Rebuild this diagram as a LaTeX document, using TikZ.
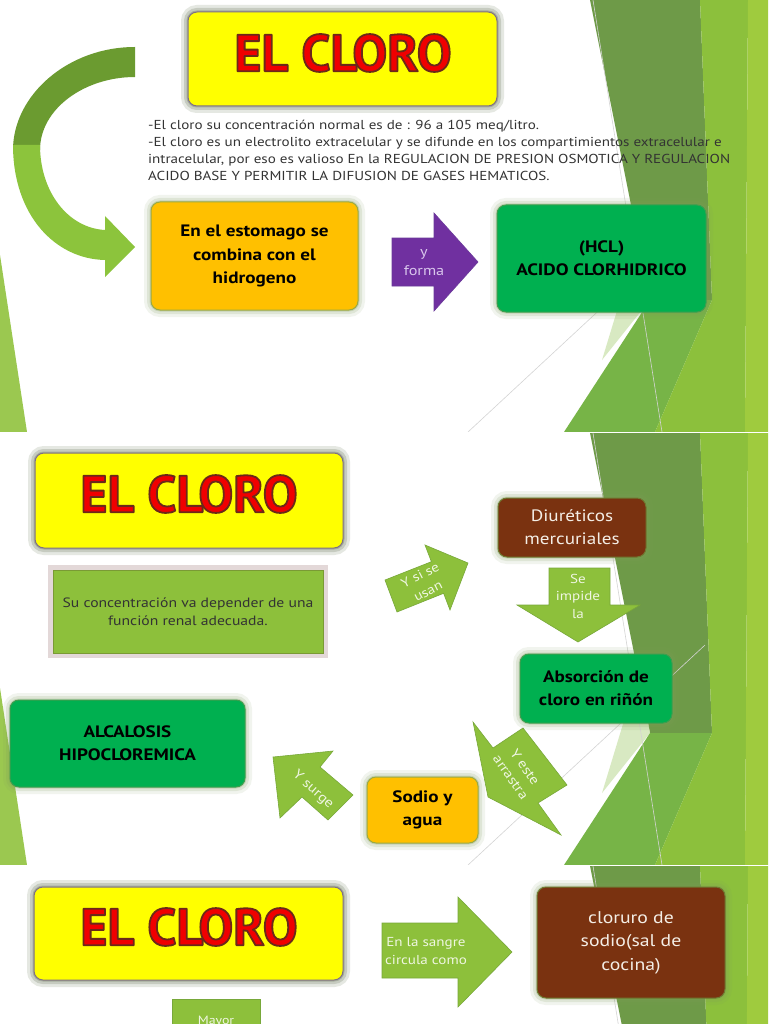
\documentclass[tikz,border=0pt]{standalone}
\usepackage{fontspec}
\setmainfont[FakeStretch=1.16]{PT Sans}
\newfontfamily\titlefont{PT Sans}
\definecolor{titleyellow}{HTML}{FFFF00}
\definecolor{titleedge}{HTML}{7F6F86}
\definecolor{titlered}{HTML}{F00000}
\definecolor{orangefill}{HTML}{FFC000}
\definecolor{orangeedge}{HTML}{9AAA44}
\definecolor{greenfill}{HTML}{00B050}
\definecolor{greenedge}{HTML}{3E9E4E}
\definecolor{brownfill}{HTML}{7A3210}
\definecolor{brownedge}{HTML}{6E7A30}
\definecolor{purplefill}{HTML}{7030A0}
\definecolor{purpleedge}{HTML}{6A3A9A}
\definecolor{purpletext}{HTML}{D9C6EC}
\definecolor{arrowgreen}{HTML}{8DC03B}
\definecolor{arrowedge}{HTML}{78A83A}
\definecolor{arrowtext}{HTML}{EFF6E2}
\definecolor{concedge}{HTML}{7A9A35}
\definecolor{concglow}{HTML}{B09090}
\definecolor{glowc}{HTML}{7E9A5A}
\definecolor{paratext}{HTML}{333333}
\definecolor{lighttext}{HTML}{F4EEE6}
\definecolor{dkg}{HTML}{6E9A48}
\definecolor{mdg}{HTML}{77B447}
\definecolor{brg}{HTML}{8CC03C}
\definecolor{stg}{HTML}{9FCB3E}
\definecolor{lsg}{HTML}{9BC850}
\definecolor{ltg}{HTML}{C8E1A9}
\definecolor{thinline}{HTML}{D4D4D4}
\definecolor{curvedark}{HTML}{6B9B30}
\definecolor{curvelight}{HTML}{8CC43C}
% red title text with a dark outline (stands in for the shadow)
\newcommand\outlined[1]{\special{pdf:literal direct 0.42 0.16 0.10 RG 1.8 w 1 j 2 Tr}#1\special{pdf:literal direct 0 Tr}}
\tikzset{
  glow/.style={preaction={draw=#1, line width=14pt, draw opacity=0.10},
               preaction={draw=#1, line width=8pt, draw opacity=0.16},
               preaction={draw=#1, line width=3pt, draw opacity=0.25}},
  box/.style={rounded corners=9pt, line width=1pt, align=center, inner sep=2pt, glow=glowc},
  titlebox/.style={box, draw=titleedge, fill=titleyellow, glow=gray},
  titletext/.style={text=titlered, font=\titlefont\bfseries\fontsize{52}{52}\selectfont, inner sep=0pt},
  orangebox/.style={box, draw=orangeedge, fill=orangefill, font=\bfseries\fontsize{16.5}{23.5}\selectfont},
  greenbox/.style={box, draw=greenedge, fill=greenfill, font=\bfseries\fontsize{16.5}{23}\selectfont},
  brownbox/.style={box, draw=brownedge, fill=brownfill, text=lighttext, font=\fontsize{16.5}{23}\selectfont},
  arrowshape/.style={fill=arrowgreen, draw=arrowedge, line width=0.6pt},
  arrowlabel/.style={text=arrowtext, font=\fontsize{13}{17.5}\selectfont, align=center, inner sep=0pt},
  paragraph/.style={text=paratext, font=\fontsize{13}{17.3}\selectfont, align=left, inner sep=0pt, anchor=north west}
}
\begin{document}
\begin{tikzpicture}[x=1pt,y=-1pt]
\useasboundingbox (0,0) rectangle (768,1024);
\clip (0,0) rectangle (768,1024);
\fill[white] (0,0) rectangle (768,1024);
% ---------- slide backgrounds (Facet theme) ----------
\foreach \yo in {0,433,866}{
  \fill[dkg] (590,\yo) -- (700,\yo) -- (712,\yo+300) -- (650,\yo+300) -- cycle;
  \fill[ltg, opacity=0.7] (602,\yo+360) -- (650,\yo+300) -- (640,\yo+235) -- cycle;
  \fill[mdg] (564,\yo+432) -- (655,\yo+432) -- (712,\yo+300) -- (650,\yo+300) -- cycle;
  \fill[brg] (700,\yo) -- (748,\yo) -- (745,\yo+432) -- (655,\yo+432) -- (712,\yo+300) -- cycle;
  \fill[stg] (748,\yo) -- (768,\yo) -- (768,\yo+432) -- (745,\yo+432) -- cycle;
  \fill[lsg] (0,\yo+255) -- (27,\yo+432) -- (0,\yo+432) -- cycle;
  \draw[thinline, line width=0.6pt] (593,\yo) -- (662,\yo+432);
  \draw[thinline, line width=0.6pt] (468,\yo+432) -- (705,\yo+212);
  \draw[white, line width=1pt] (0,\yo+432.5) -- (768,\yo+432.5);
}
% ================= SLIDE 1 =================
% curved arrow
\fill[curvedark] (135,47) .. controls (67.6,47) and (13,95.4) .. (13,150)
   -- (40,150) .. controls (40,109) and (84.2,77) .. (135,77) -- cycle;
\fill[curvelight] (13,145) .. controls (13,215) and (55,259) .. (105,260)
   -- (105,277) -- (135,247) -- (105,216) -- (105,230)
   .. controls (68,228) and (40,192) .. (40,145) -- cycle;
\node[titlebox, minimum width=309pt, minimum height=94pt] (t1) at (342.5,59) {};
\node[titletext] (t1txt) at (343,53) {\outlined{EL CLORO}};
\node[paragraph] (para) at (148,119.5) {-El cloro su concentración normal es de : 96 a 105 meq/litro.\\
-El cloro es un electrolito extracelular y se difunde en los compartimientos extracelular e\\
intracelular, por eso es valioso En la REGULACION DE PRESION OSMOTICA Y REGULACION\\
ACIDO BASE Y PERMITIR LA DIFUSION DE GASES HEMATICOS.};
\node[orangebox, minimum width=207pt, minimum height=108pt] (estomago) at (254.5,256)
  {En el estomago se\\combina con el\\hidrogeno};
\path[fill=purplefill, draw=purpleedge, line width=0.6pt]
  (392,238) -- (434,238) -- (434,213) -- (478,262) -- (434,311) -- (434,286) -- (392,286) -- cycle;
\node[arrowlabel, text=purpletext, font=\fontsize{14}{19}\selectfont] (yforma) at (424,262.5) {y\\forma};
\node[greenbox, minimum width=209pt, minimum height=107pt] (hcl) at (601.5,258.5)
  {(HCL)\\ACIDO CLORHIDRICO};
% ================= SLIDE 2 =================
\node[titlebox, minimum width=308pt, minimum height=95pt] (t2) at (189,500.5) {};
\node[titletext] (t2txt) at (189,494) {\outlined{EL CLORO}};
\node[draw=concedge, fill=arrowgreen, line width=1pt, minimum width=270pt, minimum height=83pt,
  preaction={draw=concglow, line width=10pt, draw opacity=0.35},
  text=paratext, font=\fontsize{13.5}{18}\selectfont, align=center] (conc) at (188,611.5)
  {Su concentración va depender de una\\función renal adecuada.};
\node[greenbox, minimum width=235pt, minimum height=87pt] (alcalosis) at (127.5,743.5)
  {ALCALOSIS\\HIPOCLOREMICA};
\node[brownbox, minimum width=148pt, minimum height=59pt] (diureticos) at (572,527.5)
  {Diuréticos\\mercuriales};
\node[greenbox, minimum width=152pt, minimum height=69pt] (absorcion) at (596,688.5)
  {Absorción de\\cloro en riñón};
\node[orangebox, minimum width=111pt, minimum height=66pt] (sodio) at (422.5,810)
  {Sodio y\\agua};
% arrow "Y si se usan"
\path[arrowshape] (385,580) -- (431.4,561.7) -- (425,545) -- (468,563) -- (450,610) -- (443.6,593.3) -- (397,612) -- cycle;
\node[arrowlabel, rotate=27] (usan) at (424,583) {Y si se\\usan};
% arrow "Se impide la"
\path[arrowshape] (549,568) -- (610,568) -- (610,605) -- (640,605) -- (578,642) -- (517,605) -- (549,605) -- cycle;
\node[arrowlabel] (impide) at (578,596) {Se\\impide\\la};
% arrow "Y este arrastra"
\path[arrowshape] (488,797) -- (473,722) -- (493,748) -- (523,728) -- (567,785) -- (538,803) -- (561,835) -- cycle;
\node[arrowlabel, font=\fontsize{13.5}{17.5}\selectfont, rotate=-55] (arrastra) at (518,772) {Y este\\arrastra};
% arrow "Y surge"
\path[arrowshape] (273,757) -- (333,751) -- (320,767) -- (353,795) -- (328,820) -- (302,797) -- (280,818) -- cycle;
\node[arrowlabel, font=\fontsize{13.5}{17}\selectfont, rotate=-42] (surge) at (313,790) {Y surge};
% ================= SLIDE 3 =================
\node[titlebox, minimum width=309pt, minimum height=93pt] (t3) at (188.5,933.5) {};
\node[titletext] (t3txt) at (189,927) {\outlined{EL CLORO}};
\path[arrowshape] (382,923) -- (458,923) -- (458,897) -- (512,952) -- (458,1007) -- (458,978) -- (382,978) -- cycle;
\node[arrowlabel] (sangre) at (426,951) {En la sangre\\circula como};
\node[brownbox, minimum width=188pt, minimum height=111pt, font=\fontsize{17}{23.5}\selectfont] (cloruro) at (631,942.5)
  {cloruro de\\sodio(sal de\\cocina)};
\node[draw=arrowedge, fill=arrowgreen, line width=0.8pt, minimum width=88pt, minimum height=46pt,
  text=arrowtext, font=\fontsize{12}{14}\selectfont] (mayor) at (216,1022) {Mayor};
\end{tikzpicture}
\end{document}
